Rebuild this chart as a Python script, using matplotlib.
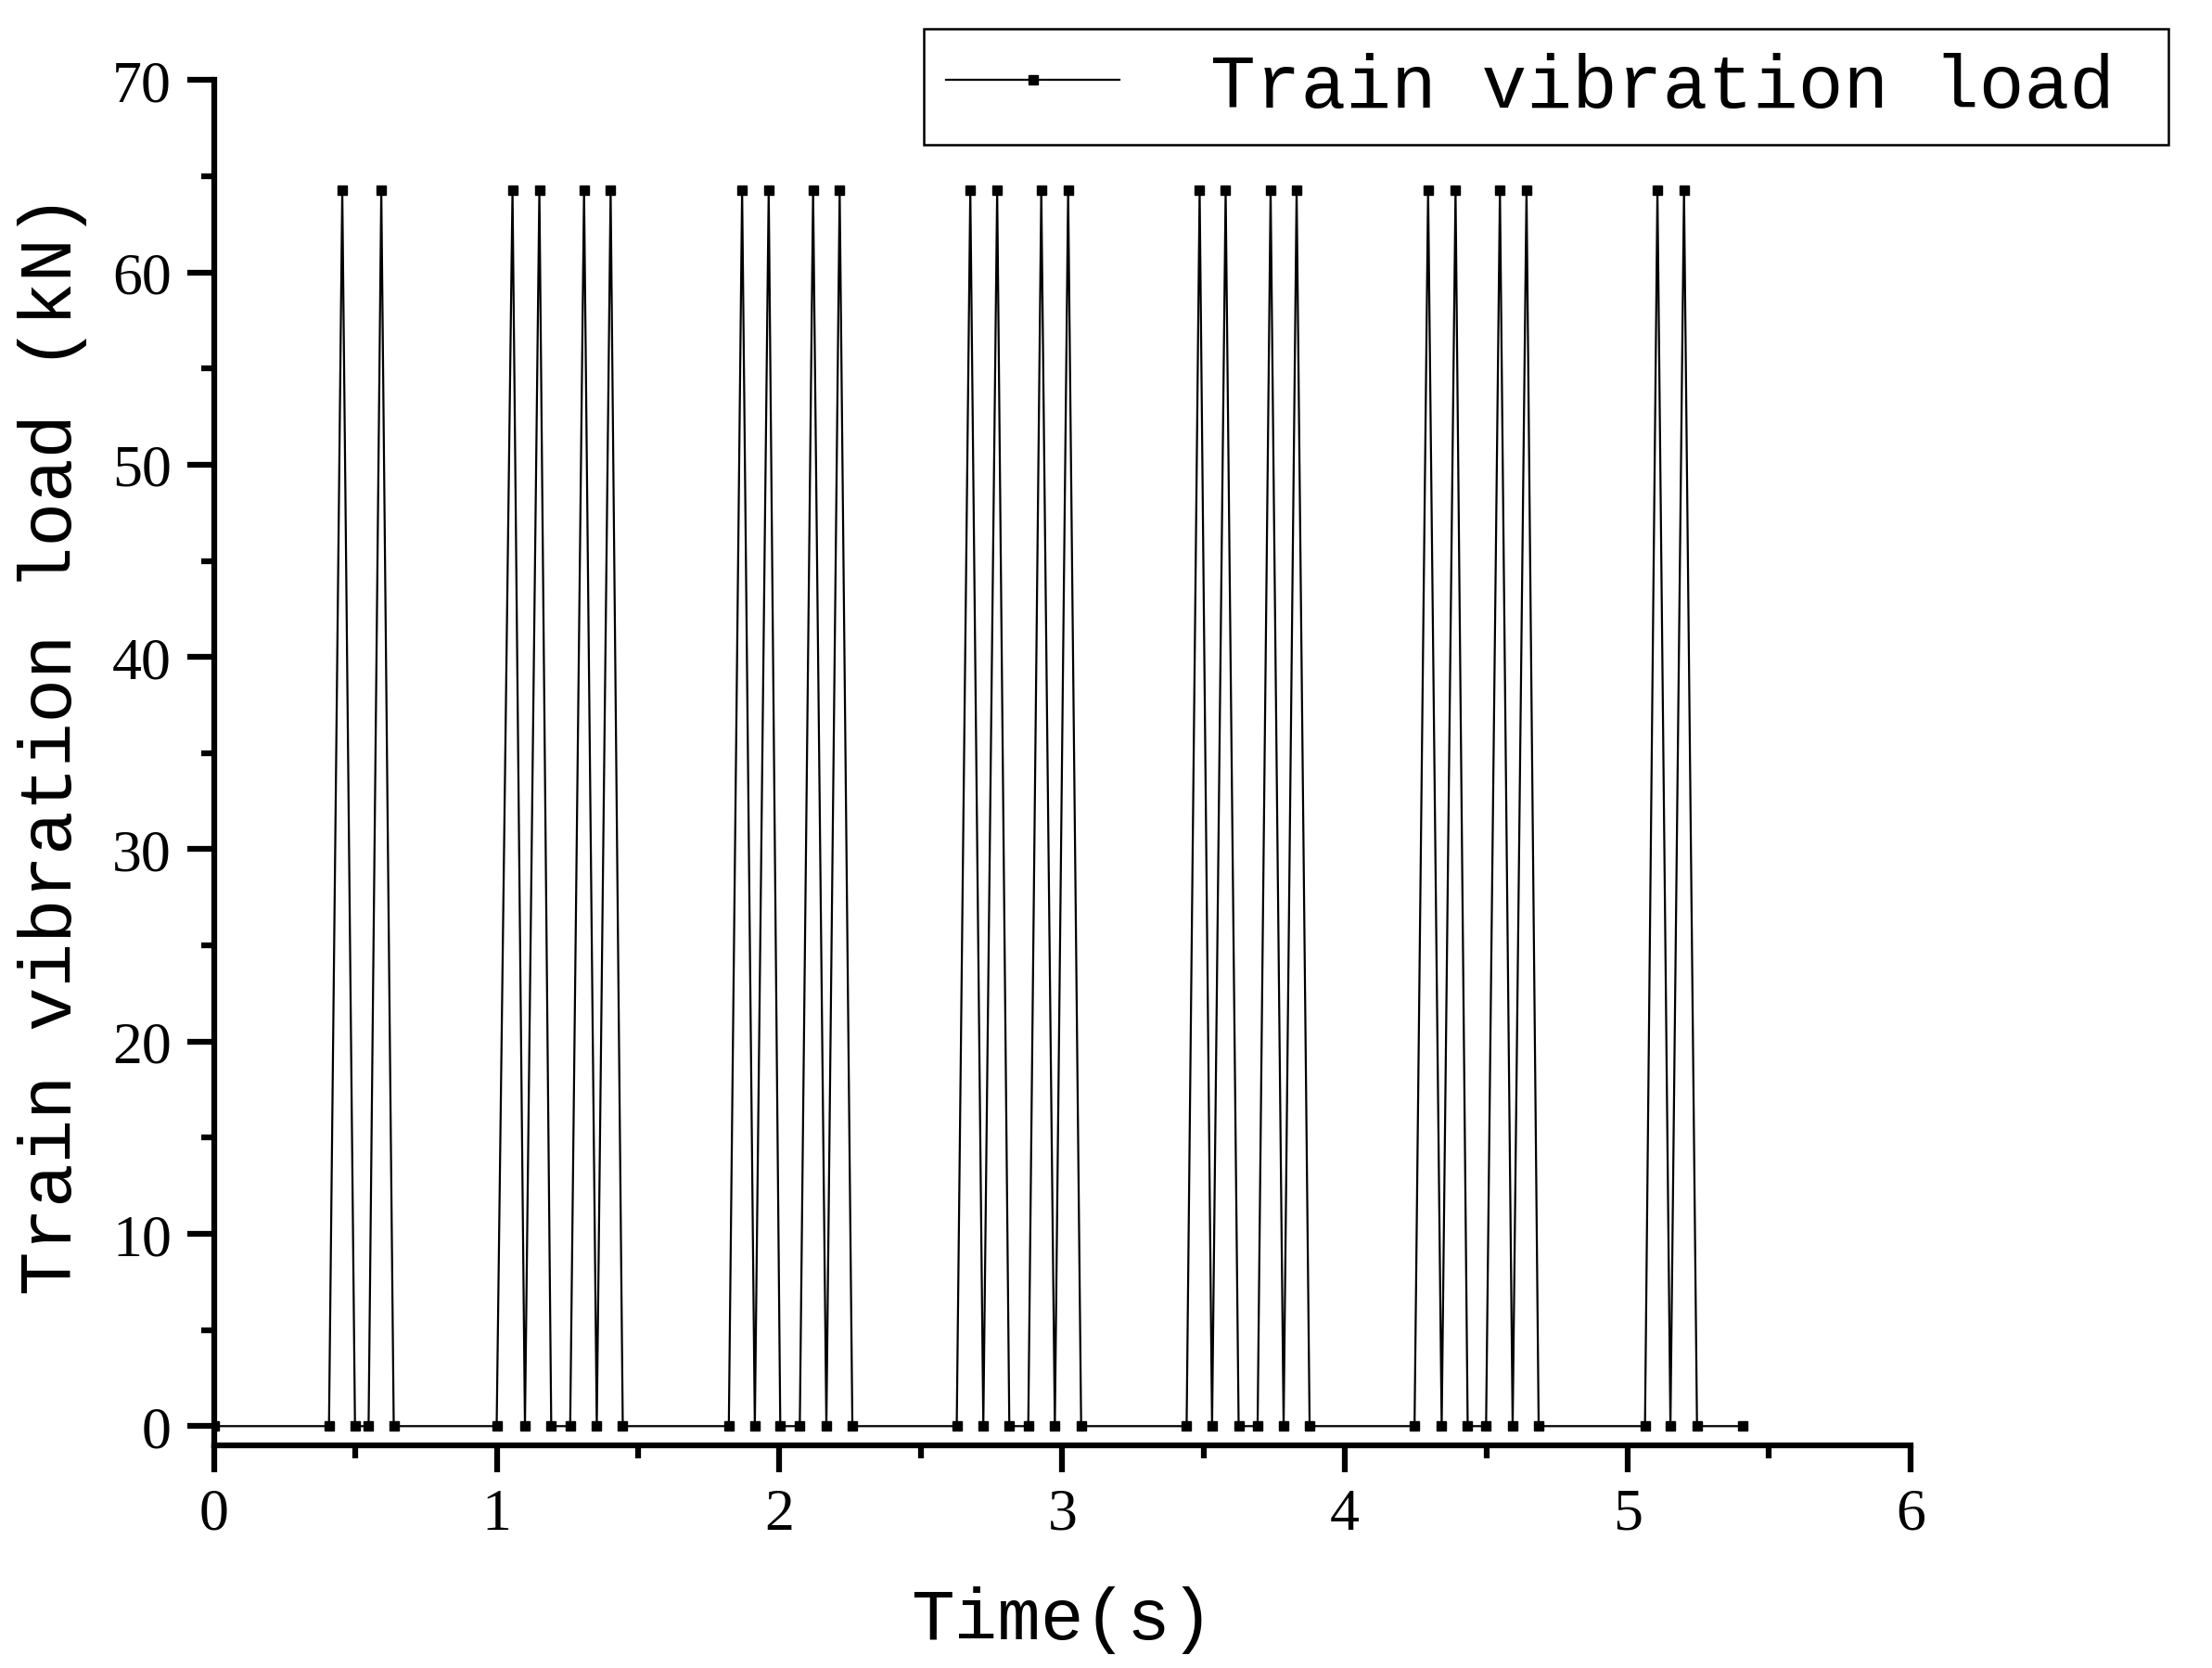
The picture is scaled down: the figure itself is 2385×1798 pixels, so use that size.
import matplotlib.pyplot as plt
from matplotlib.ticker import MultipleLocator

times = [0, 0.407, 0.454, 0.499, 0.547, 0.592, 0.636,
         1.000, 1.056, 1.100, 1.151, 1.193, 1.260, 1.309, 1.354, 1.403, 1.446,
         1.821, 1.868, 1.913, 1.962, 2.003, 2.072, 2.119, 2.166, 2.213, 2.258,
         2.627, 2.675, 2.721, 2.770, 2.813, 2.880, 2.926, 2.974, 3.021, 3.067,
         3.440, 3.486, 3.530, 3.578, 3.624, 3.691, 3.737, 3.783, 3.829, 3.875,
         4.246, 4.294, 4.342, 4.391, 4.434, 4.499, 4.548, 4.593, 4.642, 4.685,
         5.061, 5.105, 5.151, 5.199, 5.245, 5.408]
loads = [0, 0, 64.3, 0, 0, 64.3, 0,
         0, 64.3, 0, 64.3, 0, 0, 64.3, 0, 64.3, 0,
         0, 64.3, 0, 64.3, 0, 0, 64.3, 0, 64.3, 0,
         0, 64.3, 0, 64.3, 0, 0, 64.3, 0, 64.3, 0,
         0, 64.3, 0, 64.3, 0, 0, 64.3, 0, 64.3, 0,
         0, 64.3, 0, 64.3, 0, 0, 64.3, 0, 64.3, 0,
         0, 64.3, 0, 64.3, 0, 0]
series_name = "Train vibration load"
x_label = "Time(s)"
y_label = "Train vibration load (kN)"

tick_font = "Liberation Serif"
text_font = "Liberation Mono"

fig = plt.figure(figsize=(23.85, 17.99), dpi=100)
ax = fig.add_axes([0.0967, 0.1334, 0.767, 0.818])

ax.plot(times, loads, color="black", linewidth=1.6, marker="s",
        markersize=7.8, markeredgewidth=1, label=series_name)

ax.set_xlim(0, 6)
ax.set_ylim(-1, 70)
ax.xaxis.set_major_locator(MultipleLocator(1))
ax.xaxis.set_minor_locator(MultipleLocator(0.5))
ax.yaxis.set_major_locator(MultipleLocator(10))
ax.yaxis.set_minor_locator(MultipleLocator(5))

ax.spines["top"].set_visible(False)
ax.spines["right"].set_visible(False)
ax.spines["left"].set_linewidth(4.5)
ax.spines["bottom"].set_linewidth(4.5)

ax.tick_params(which="major", direction="out", length=21, width=4.5)
ax.tick_params(which="minor", direction="out", length=10, width=4.5)
ax.tick_params(axis="x", which="major", pad=12)
ax.tick_params(axis="y", which="major", pad=12)
for lbl in ax.get_xticklabels() + ax.get_yticklabels():
    lbl.set_fontfamily(tick_font)
    lbl.set_fontsize(46)

ax.set_xlabel(x_label, fontfamily=text_font, fontsize=56, labelpad=34)
ax.set_ylabel(y_label, fontfamily=text_font, fontsize=57)
ax.yaxis.set_label_coords(-0.0747, 0.514)

leg = ax.legend(loc="upper left", bbox_to_anchor=(0.4176, 0.9, 0.5627, 0.0822),
                bbox_transform=fig.transFigure, mode="expand", borderaxespad=0,
                prop={"family": text_font, "size": 58.5}, numpoints=1,
                fancybox=False, framealpha=1, edgecolor="black",
                borderpad=0.3, handlelength=2.3, handletextpad=1.2)
leg.get_frame().set_linewidth(1.8)

fig.savefig("out.png", dpi=100)
